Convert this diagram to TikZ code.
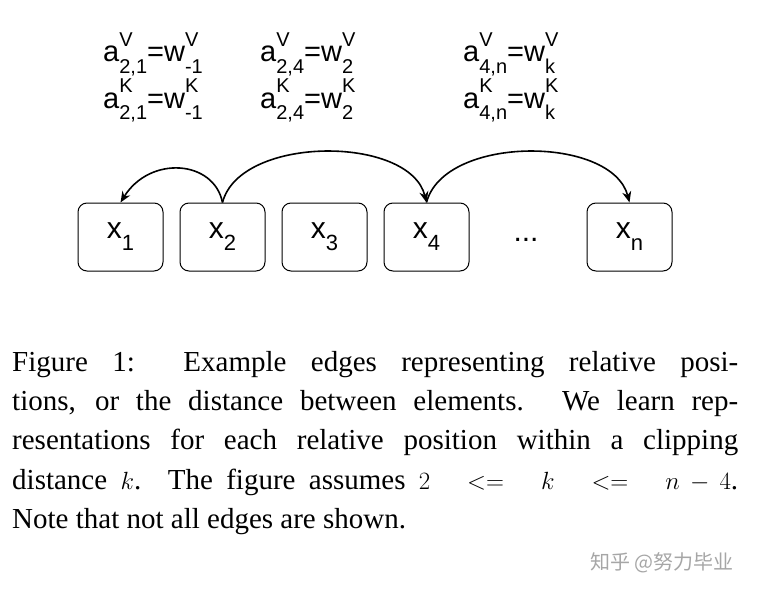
\documentclass[tikz,border=0pt]{standalone}
\usepackage{fontspec}
\usetikzlibrary{arrows.meta}
\setmainfont{Liberation Serif}
\newfontfamily\lsans{Liberation Sans}
\newfontfamily\cjk{Noto Sans CJK SC}
\newcommand\supsubx[2]{\rlap{\raisebox{0.55em}{\fontsize{20}{20}\selectfont #1}}\raisebox{-0.38em}{\fontsize{20}{20}\selectfont #2}}
\begin{document}
\begin{tikzpicture}[x=1pt,y=-1pt,
  box/.style={draw,rounded corners=9pt,minimum width=85pt,minimum height=68pt,line width=1pt,font=\lsans\fontsize{30}{30}\selectfont},
  lab/.style={anchor=base west,inner sep=0pt,font=\lsans\fontsize{29}{29}\selectfont},
  arc/.style={line width=1.6pt,-{Stealth[length=11pt,width=9pt]}}]
\useasboundingbox (0,0) rectangle (774,594);
\node[lab] (l1) at (103,62) {a\supsubx{V}{2,1}=w\supsubx{V}{-1}};
\node[lab] (l2) at (260,62) {a\supsubx{V}{2,4}=w\supsubx{V}{2}};
\node[lab] (l3) at (463,62) {a\supsubx{V}{4,n}=w\supsubx{V}{k}};
\node[lab] (l4) at (103,108) {a\supsubx{K}{2,1}=w\supsubx{K}{-1}};
\node[lab] (l5) at (260,108) {a\supsubx{K}{2,4}=w\supsubx{K}{2}};
\node[lab] (l6) at (463,108) {a\supsubx{K}{4,n}=w\supsubx{K}{k}};
\node[box] (x1) at (120.5,237) {x\raisebox{-0.4em}{\fontsize{22}{22}\selectfont 1}};
\node[box] (x2) at (222.5,237) {x\raisebox{-0.4em}{\fontsize{22}{22}\selectfont 2}};
\node[box] (x3) at (324.5,237) {x\raisebox{-0.4em}{\fontsize{22}{22}\selectfont 3}};
\node[box] (x4) at (426.5,237) {x\raisebox{-0.4em}{\fontsize{22}{22}\selectfont 4}};
\node[font=\lsans\fontsize{30}{30}\selectfont] (dots) at (526,240) {...};
\node[box] (xn) at (629.5,237) {x\raisebox{-0.4em}{\fontsize{22}{22}\selectfont n}};
\draw[arc] (x2.north) .. controls (214,160) and (150,155) .. (x1.north);
\draw[arc] (x2.north) .. controls (240,135) and (410,135) .. (x4.north);
\draw[arc] (x4.north) .. controls (444,135) and (612,135) .. (xn.north);
\node[anchor=north west,inner sep=0pt,text width=726pt,align=justify,font=\fontsize{29}{39.3}\selectfont] (cap) at (12,351)
{Figure 1:\ \ Example edges representing relative posi-\linebreak tions, or the distance between elements. We learn rep-\linebreak resentations for each relative position within a clipping\linebreak distance $k$.\ \ The figure assumes $2\;<=\;k\;<=\;n-4$.\linebreak Note that not all edges are shown.};
\node[anchor=west,inner sep=0pt,text=black!35,font=\cjk\fontsize{20}{20}\selectfont] (wm) at (590,563) {知乎 @努力毕业};
\end{tikzpicture}
\end{document}
